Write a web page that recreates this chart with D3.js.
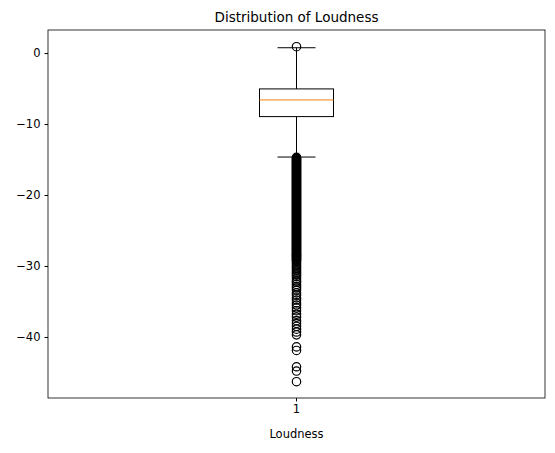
<!DOCTYPE html>
<html><head><meta charset="utf-8">
<script src="https://cdn.jsdelivr.net/npm/d3@7"></script>
<style>body{margin:0;background:#fff;font-family:"DejaVu Sans",sans-serif;}</style>
</head><body><div id="chart"></div>
<script>
const categories = ["1"];
const yTicks = [0, -10, -20, -30, -40];
const stats = { whiskerLow: -14.65, q1: -8.95, median: -6.6, q3: -5.05, whiskerHigh: 0.75 };
const outliers = [0.9,
  -14.7, -14.8, -14.9, -15.0, -15.1, -15.2, -15.3, -15.4, -15.5, -15.6, -15.7, -15.8, -15.9,
  -16.0, -16.1, -16.2, -16.3, -16.4, -16.5, -16.6, -16.7, -16.8, -16.9, -17.0, -17.1, -17.2,
  -17.3, -17.4, -17.5, -17.6, -17.7, -17.8, -17.9, -18.0, -18.1, -18.2, -18.3, -18.4, -18.5,
  -18.6, -18.7, -18.8, -18.9, -19.0, -19.1, -19.2, -19.3, -19.4, -19.5, -19.6, -19.7, -19.8,
  -19.9, -20.0, -20.1, -20.2, -20.3, -20.4, -20.5, -20.6, -20.7, -20.8, -20.9, -21.0, -21.1,
  -21.2, -21.3, -21.4, -21.5, -21.6, -21.7, -21.8, -21.9, -22.0, -22.1, -22.2, -22.3, -22.4,
  -22.5, -22.6, -22.7, -22.8, -22.9, -23.0, -23.1, -23.2, -23.3, -23.4, -23.5, -23.6, -23.7,
  -23.8, -23.9, -24.0, -24.1, -24.2, -24.3, -24.4, -24.5, -24.6, -24.7, -24.8, -24.9, -25.0,
  -25.1, -25.2, -25.3, -25.4, -25.5, -25.6, -25.7, -25.8, -25.9, -26.0, -26.1, -26.2, -26.3,
  -26.4, -26.5, -26.6, -26.7, -26.8, -26.9, -27.0, -27.1, -27.2, -27.3, -27.4, -27.5, -27.6,
  -27.7, -27.8, -27.9, -28.0, -28.1, -28.2, -28.3, -28.4, -28.5, -28.6, -28.7, -28.8, -28.9,
  -29.0, -29.1, -29.2, -29.3, -29.5, -29.7, -29.9, -30.1, -30.3, -30.5, -30.7, -30.9, -31.1,
  -31.3, -31.5, -31.8, -32.1, -32.3, -32.6, -32.9, -33.1, -33.4, -33.8, -34.1, -34.5, -34.8,
  -35.2, -35.5, -35.9, -36.3, -36.8, -37.2, -37.7, -38.1, -38.5, -38.9, -39.3, -39.7,
  -41.4, -41.9, -44.2, -44.8, -46.3];

const W = 555, H = 453;
const m = { left: 48, right: 10, top: 30, bottom: 55 };
const svg = d3.select("#chart").append("svg").attr("width", W).attr("height", H);

const x = d3.scaleBand().domain(categories).range([m.left, W - m.right]);
const y = d3.scaleLinear().domain([-48.6, 3.25]).range([H - m.bottom, m.top]);

svg.append("text").attr("x", (m.left + W - m.right) / 2).attr("y", 22)
  .attr("text-anchor", "middle").attr("font-size", 13.5).text("Distribution of Loudness");

const cx = x("1") + x.bandwidth() / 2;
const bw = 74, cw = 38;
const g = svg.append("g").attr("stroke", "#000").attr("fill", "none");
g.append("line").attr("x1", cx).attr("x2", cx).attr("y1", y(stats.q3)).attr("y2", y(stats.whiskerHigh));
g.append("line").attr("x1", cx).attr("x2", cx).attr("y1", y(stats.q1)).attr("y2", y(stats.whiskerLow));
g.append("line").attr("x1", cx - cw / 2).attr("x2", cx + cw / 2).attr("y1", y(stats.whiskerHigh)).attr("y2", y(stats.whiskerHigh));
g.append("line").attr("x1", cx - cw / 2).attr("x2", cx + cw / 2).attr("y1", y(stats.whiskerLow)).attr("y2", y(stats.whiskerLow));
g.append("rect").attr("x", cx - bw / 2).attr("width", bw).attr("y", y(stats.q3)).attr("height", y(stats.q1) - y(stats.q3));
g.append("line").attr("stroke", "#ff7f0e").attr("x1", cx - bw / 2).attr("x2", cx + bw / 2).attr("y1", y(stats.median)).attr("y2", y(stats.median));
g.selectAll("circle").data(outliers).enter().append("circle")
  .attr("cx", cx).attr("cy", d => y(d)).attr("r", 4.2).attr("stroke-width", 1.2);

const ax = svg.append("g").attr("transform", `translate(0,${H - m.bottom})`)
  .call(d3.axisBottom(x).tickSizeOuter(0).tickSize(3.5).tickPadding(3));
const ay = svg.append("g").attr("transform", `translate(${m.left},0)`)
  .call(d3.axisLeft(y).tickValues(yTicks).tickFormat(d => d < 0 ? "\u2212" + (-d) : d).tickSizeOuter(0).tickSize(3.5).tickPadding(4));
[ax, ay].forEach(a => { a.selectAll("text").attr("font-size", 11.5).attr("font-family", "DejaVu Sans").attr("fill", "#000"); a.select(".domain").remove(); });
svg.append("rect").attr("x", m.left).attr("y", m.top).attr("width", W - m.left - m.right)
  .attr("height", H - m.top - m.bottom).attr("fill", "none").attr("stroke", "#000").attr("stroke-width", 0.8);
svg.append("text").attr("x", (m.left + W - m.right) / 2).attr("y", 438).attr("text-anchor", "middle")
  .attr("font-size", 11.5).text("Loudness");
</script></body></html>
